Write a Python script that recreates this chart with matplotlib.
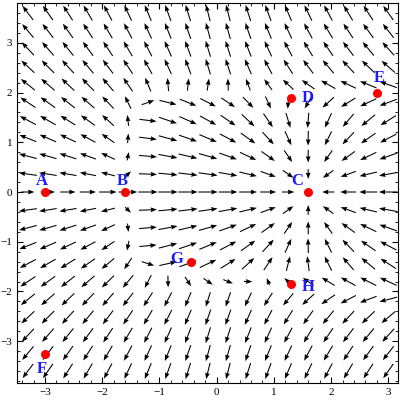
import numpy as np
import matplotlib
matplotlib.use("Agg")
import matplotlib.pyplot as plt
from matplotlib.ticker import MultipleLocator

labels = ["A", "B", "C", "D", "E", "F", "G", "H"]
px = [-3.0, -1.6, 1.6, 1.3, 2.8, -3.0, -0.45, 1.3]
py = [0.0, 0.0, 0.0, 1.9, 2.0, -3.25, -1.4, -1.85]
lab_dx = [-0.05, -0.05, -0.2, 0.3, 0.05, -0.05, -0.25, 0.3]
lab_dy = [0.22, 0.22, 0.22, 0.0, 0.3, -0.3, 0.05, -0.05]

xs = -3.3 + 0.35 * np.arange(19)
ys = -3.6 + 0.36 * np.arange(21)
X, Y = np.meshgrid(xs, ys)

def sig(t):
    return 1 / (1 + np.exp(-t))

band = sig((1.9 - Y) * 5) * sig((Y + 1.65 + 0.1 * X) * 5) * sig((X + 1.2) * 4)
u_in = -(X - 1.6)
v_in = -0.8 * Y
u_out = -0.35 - 0.25 * np.abs(X) + 1.6 * np.exp(-(Y / 0.2) ** 2)
v_out = 0.5 * Y
U = band * u_in + (1 - band) * u_out
V = band * v_in + (1 - band) * v_out
M = np.hypot(U, V) + 1e-9
L = 0.34 * (0.35 + 0.65 * np.tanh(1.3 * M))
U, V = U / M * L, V / M * L

fig = plt.figure(figsize=(4, 4), dpi=100)
ax = fig.add_axes([0.0425, 0.0425, 0.9525, 0.95])
ax.quiver(X - U / 2, Y - V / 2, U, V, angles="xy", scale_units="xy", scale=1,
          width=0.0028, headwidth=4.5, headlength=6, headaxislength=5.5, color="black")
ax.scatter(px, py, s=30, color="red", zorder=3)
for l, x, y, dx, dy in zip(labels, px, py, lab_dx, lab_dy):
    ax.text(x + dx, y + dy, l, color="#1a1aff", fontsize=12, family="Liberation Serif",
            fontweight="bold", ha="center", va="center", zorder=4)
ax.set_xlim(-3.49, 3.17)
ax.set_ylim(-3.84, 3.8)
ax.xaxis.set_major_locator(MultipleLocator(1))
ax.yaxis.set_major_locator(MultipleLocator(1))
ax.xaxis.set_minor_locator(MultipleLocator(0.2))
ax.yaxis.set_minor_locator(MultipleLocator(0.2))
ax.tick_params(which="both", direction="in", top=True, right=True, labelsize=8)
ax.tick_params(which="major", length=4)
ax.tick_params(which="minor", length=2)
for lab in ax.get_xticklabels() + ax.get_yticklabels():
    lab.set_family("Liberation Serif")
fig.savefig("out.png")
